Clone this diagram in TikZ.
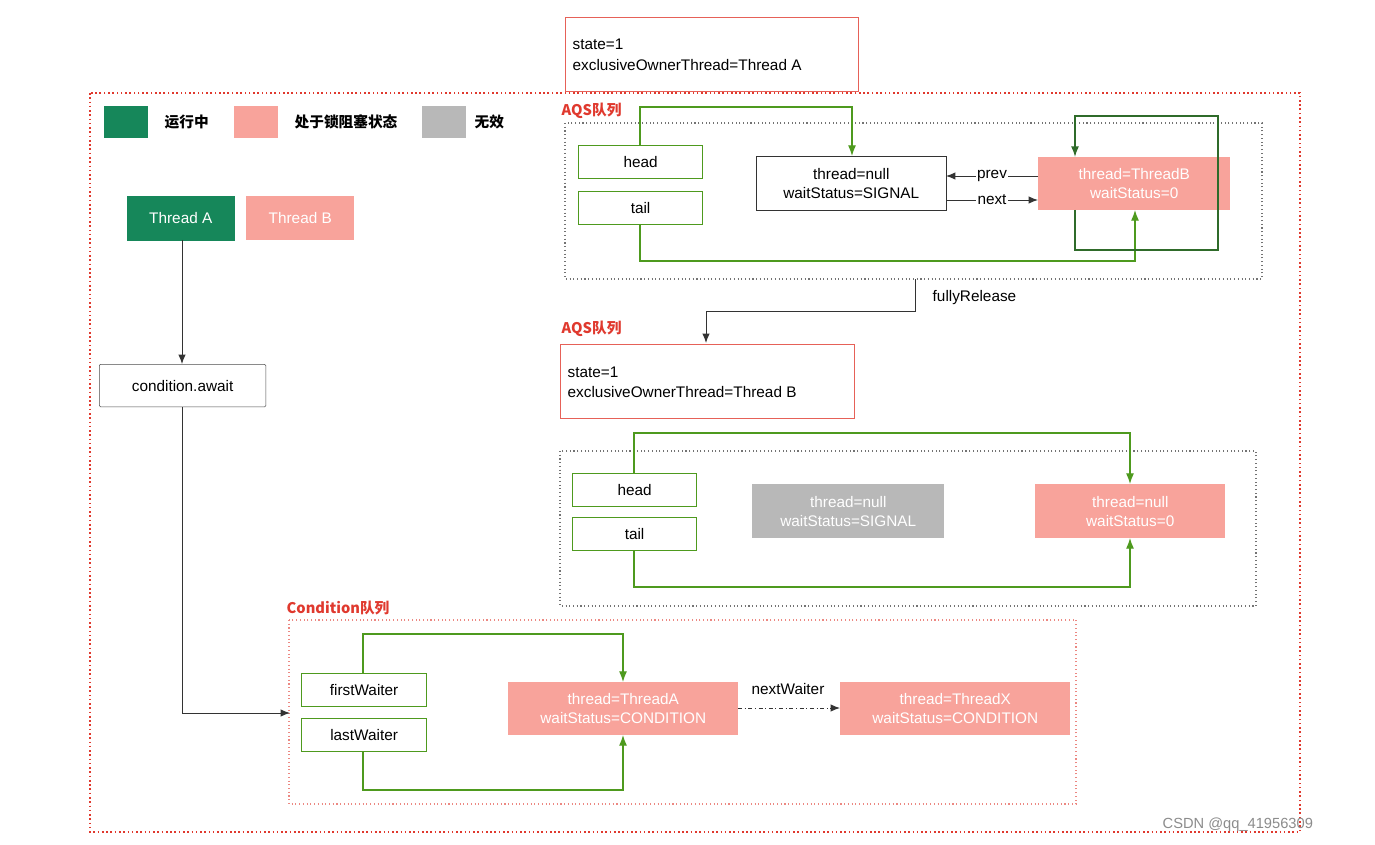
\documentclass[tikz,border=0pt]{standalone}
\usepackage{fontspec}
\setmainfont{Liberation Sans}
\newfontfamily\cjk{Noto Sans CJK SC}
\usetikzlibrary{arrows.meta}
\definecolor{run}{HTML}{16875A}
\definecolor{blk}{HTML}{F8A39B}
\definecolor{inv}{HTML}{B8B8B8}
\definecolor{gline}{HTML}{4E9A1E}
\definecolor{dg}{HTML}{2F6B2A}
\definecolor{rd}{HTML}{E0392E}
\begin{document}
\begin{tikzpicture}[x=0.75pt,y=-0.75pt,font=\fontsize{11.5}{14}\selectfont,
 box/.style={draw,rectangle,inner sep=0pt,anchor=north west},
 ptr/.style={draw=gline,line width=0.9pt,fill=white},
 gar/.style={draw=gline,line width=0.9pt,-{Latex[length=8pt,width=6pt]}},
 kar/.style={draw=black!80,line width=0.7pt,-{Latex[length=7pt,width=5.5pt]}},
 lbl/.style={text=rd,font=\bfseries\fontsize{11}{13}\selectfont,anchor=west},
 pink/.style={fill=blk,text=white,draw=none},
 dots/.style={dotted,line width=0.8pt}]
\useasboundingbox (0,0) rectangle (1375,845);
\fill[white] (0,0) rectangle (1375,845);
% outer
\draw[rd,dots,line width=1.2pt] (90,93) rectangle (1300,832);
% legend
\fill[run] (104,106) rectangle (148,138);
\node[anchor=west,font=\cjk\bfseries\fontsize{11}{13}\selectfont] (lg1) at (160,122) {运行中};
\fill[blk] (234,106) rectangle (278,138);
\node[anchor=west,font=\cjk\bfseries\fontsize{11}{13}\selectfont] (lg2) at (290,122) {处于锁阻塞状态};
\fill[inv] (422,106) rectangle (466,138);
\node[anchor=west,font=\cjk\bfseries\fontsize{11}{13}\selectfont] (lg3) at (470,122) {无效};
% threads
\node[box,fill=run,draw=run,text=white,minimum width=80.25pt,minimum height=33pt] (ta) at (127,196) {};
\node[text=white] at (ta.center) {Thread A};
\node[box,pink,minimum width=81pt,minimum height=33pt] (tb) at (246,196) {};
\node[text=white] at (tb.center) {Thread B};
\node[box,draw=black!70,minimum width=125pt,minimum height=32pt,rounded corners=1pt] (ca) at (99,364) {};
\node at (ca.center) {condition.await};
\coordinate (cat) at (182,364);
\draw[kar] (182,240) -- (cat);
% top state
\node[box,draw=rd!80,minimum width=220pt,minimum height=55.5pt] (st) at (565,17) {};
\node[anchor=west] at (568,44) {state=1};
\node[anchor=west] at (568,65) {exclusiveOwnerThread=Thread A};
% AQS 1
\node[lbl,font=\bfseries\cjk\fontsize{11}{13}\selectfont] at (557,111) {AQS队列};
\draw[black!55,dots] (565,123) rectangle (1262,279);
\node[box,ptr,minimum width=93pt,minimum height=24.75pt] (h1) at (578,145) {};
\node at (h1.center) {head};
\node[box,ptr,minimum width=93pt,minimum height=24.75pt] (t1) at (578,191) {};
\node at (t1.center) {tail};
\node[box,draw=black!80,minimum width=142.5pt,minimum height=40.5pt] (n1) at (756,156) {};
\node[align=center] at (n1.center) {thread=null\\waitStatus=SIGNAL};
\node[box,pink,minimum width=144pt,minimum height=39.75pt] (b1) at (1038,157) {};
\node[align=center,text=white] at (b1.center) {thread=ThreadB\\waitStatus=0};
\draw[gar] (640,145) -- (640,107) -- (852,107) -- (852,156);
\draw[gar] (640,224) -- (640,261) -- (1135,261) -- (1135,210);
\draw[draw=dg,line width=1.1pt,-{Latex[length=8pt,width=6pt]}] (1075,210) -- (1075,250) -- (1218,250) -- (1218,116) -- (1075,116) -- (1075,157);
\draw[kar] (1038,176) -- node[fill=white,inner sep=1pt] {prev} (946,176);
\draw[kar] (946,200) -- node[fill=white,inner sep=1pt] {next} (1038,200);
% fullyRelease
\draw[kar] (915,279) -- (915,311) -- (706,311) -- (706,343);
\node[anchor=west] at (928,298) {fullyRelease};
% AQS 2
\node[lbl,font=\bfseries\cjk\fontsize{11}{13}\selectfont] at (557,329) {AQS队列};
\node[box,draw=rd!80,minimum width=220.5pt,minimum height=55.5pt] (st2) at (560,344) {};
\node[anchor=west] at (563,372) {state=1};
\node[anchor=west] at (563,392) {exclusiveOwnerThread=Thread B};
\draw[black!55,dots] (560,451) rectangle (1256,606);
\node[box,ptr,minimum width=93pt,minimum height=24.75pt] (h2) at (572,473) {};
\node at (h2.center) {head};
\node[box,ptr,minimum width=93pt,minimum height=24.75pt] (t2) at (572,517) {};
\node at (t2.center) {tail};
\node[box,fill=inv,draw=none,minimum width=144pt,minimum height=40.5pt] (n2) at (752,484) {};
\node[align=center,text=white] at (n2.center) {thread=null\\waitStatus=SIGNAL};
\node[box,pink,minimum width=142.5pt,minimum height=40.5pt] (b2) at (1035,484) {};
\node[align=center,text=white] at (b2.center) {thread=null\\waitStatus=0};
\draw[gar] (634,473) -- (634,433) -- (1130,433) -- (1130,484);
\draw[gar] (634,550) -- (634,587) -- (1130,587) -- (1130,538);
% Condition
\node[lbl,font=\bfseries\cjk\fontsize{11}{13}\selectfont] at (282,608) {Condition队列};
\draw[rd!60,dots] (289,620) rectangle (1076,804);
\node[box,ptr,minimum width=93.75pt,minimum height=24.75pt] (fw) at (301,673) {};
\node at (fw.center) {firstWaiter};
\node[box,ptr,minimum width=93.75pt,minimum height=24.75pt] (lw) at (301,718) {};
\node at (lw.center) {lastWaiter};
\node[box,pink,minimum width=172.5pt,minimum height=39.75pt] (ca1) at (508,682) {};
\node[align=center,text=white] at (ca1.center) {thread=ThreadA\\waitStatus=CONDITION};
\node[box,pink,minimum width=172.5pt,minimum height=39.75pt] (cx) at (840,682) {};
\node[align=center,text=white] at (cx.center) {thread=ThreadX\\waitStatus=CONDITION};
\draw[gar] (363,673) -- (363,634) -- (623,634) -- (623,682);
\draw[gar] (363,751) -- (363,790) -- (623,790) -- (623,735);
\draw[kar,dash dot] (738,708) -- (840,708);
\node at (788,689) {nextWaiter};
\draw[kar] (182,407) -- (182,713) -- (290,713);
\node[text=black!45,anchor=west,font=\fontsize{11}{13}\selectfont] at (1158,825) {CSDN @qq\_41956309};
\end{tikzpicture}
\end{document}
